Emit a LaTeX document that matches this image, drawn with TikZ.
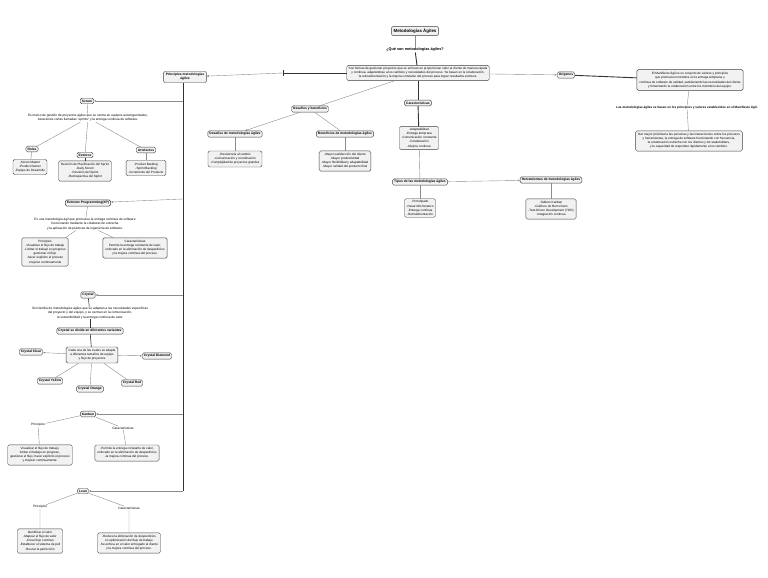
\documentclass[tikz,border=0pt]{standalone}
\usepackage{fontspec}
\setmainfont{Liberation Sans}
\usetikzlibrary{arrows.meta}
\begin{document}
\begin{tikzpicture}[x=1pt,y=-1pt,
  bx/.style={draw=black!75, fill=black!5, rounded corners=1.5pt, line width=0.4pt, inner sep=2pt, align=center, font=\fontsize{3.1}{4.1}\selectfont},
  hb/.style={bx, inner sep=1.6pt, font=\fontsize{3.3}{4}\selectfont\bfseries},
  tx/.style={inner sep=0.5pt, align=center, font=\fontsize{3.2}{4.2}\selectfont},
  ln/.style={draw=black!45, line width=0.4pt},
  dk/.style={draw=black!80, line width=0.9pt},
  ar/.style={ln, -{Latex[length=2.2pt,width=2pt]}}]
\useasboundingbox (0,0) rectangle (768,578);
% top
\node[hb, font=\fontsize{4.4}{5}\selectfont\bfseries, inner sep=2.2pt] (title) at (415,31) {Metodologías Ágiles};
\node[tx, font=\fontsize{3.8}{4.4}\selectfont\bfseries] (q) at (415,50) {¿Qué son metodologías ágiles?};
\node[bx] (main) at (418,73) {Son formas de gestionar proyectos que se enfocan en proporcionar valor al cliente de manera rápida\\y continua, adaptándose a los cambios y necesidades del proceso. Se basan en la colaboración,\\la retroalimentación y la mejora constante del proceso para lograr resultados exitosos.};
\draw[ln] (title) -- (q);
\draw[dk] (q) -- (main);
% right
\node[hb] (orig) at (566,75) {Orígenes};
\node[bx, inner sep=2.5pt] (manif) at (690,80) {El Manifiesto Ágil es un conjunto de valores y principios\\que promueven métodos en la entrega temprana y\\continua de software de calidad, satisfaciendo las necesidades del cliente\\y fomentando la colaboración entre los miembros del equipo.};
\node[tx, font=\fontsize{3.1}{3.8}\selectfont\bfseries] (manlbl) at (687,107) {Las metodologías ágiles se basan en los principios y valores establecidos en el Manifiesto Ágil.};
\node[bx, inner sep=2.5pt] (val) at (689,141) {Dar mayor prioridad a las personas y las interacciones sobre los procesos\\y herramientas, la entrega de software funcionando con frecuencia,\\la colaboración estrecha con los clientes y los stakeholders,\\y la capacidad de responder rápidamente a los cambios.};
\draw[ar] (main) -- (orig);
\draw[dk] (orig) -- (manif);
\draw[ln] (manif) -- (manlbl) -- (val);
% características
\node[hb] (carac) at (418,103) {Características};
\node[bx] (caracl) at (419,138) {-Adaptabilidad\\-Entrega temprana\\-Comunicación constante\\-Colaboración\\-Mejora continua};
\node[hb] (tipos) at (420,182) {Tipos de las metodologías ágiles};
\node[hb] (herr) at (551,180) {Herramientas de metodologías ágiles};
\node[bx] (tiposl) at (420,208) {-Prototipado\\-Desarrollo Iterativo\\-Entrega continua\\-Retroalimentación};
\node[bx, inner sep=2.5pt] (herrl) at (551,209) {-Tablero Kanban\\-Gráficos de Burn-Down\\-Test-Driven Development (TDD)\\-Integración continua};
\draw[dk] (main) -- (carac);
\draw[dk] (carac) -- (caracl);
\draw[ln] (caracl) -- (tipos);
\draw[ar] (tipos) -- (herr);
\draw[ln] (tipos) -- (tiposl);
\draw[ln] (herr) -- (herrl);
% desafíos
\node[hb] (desben) at (310,109) {Desafíos y beneficios};
\node[hb] (desaf) at (235,134) {Desafíos de metodologías ágiles};
\node[bx, inner sep=2.5pt] (desafl) at (235,159) {-Resistencia al cambio\\-Comunicación y coordinación\\-Complejidad de proyectos grandes};
\node[hb] (benef) at (345,134) {Beneficios de metodologías ágiles};
\node[bx, inner sep=2.5pt] (benefl) at (345,161) {-Mayor satisfacción del cliente\\-Mayor productividad\\-Mayor flexibilidad y adaptabilidad\\-Mayor calidad del producto final};
\draw[ln] (main) -- (desben);
\draw[ar] (desben) -- (desaf);
\draw[ln] (desben) -- (benef);
\draw[ln] (desaf) -- (desafl);
\draw[ln] (benef) -- (benefl);
% principios
\node[hb, inner sep=2.2pt] (princ) at (185,77) {Principios metodologías\\ágiles};
\coordinate (tick) at (283,73);
\draw[dk] (main.west) -- (tick);
\draw[ar] (tick) -- (princ);
\draw[draw=black!80, line width=0.4pt] (283,70.5) -- (283,75.5);
\coordinate (s0) at (183,85);
\coordinate (s1) at (183,101);
\coordinate (s2) at (183,199);
\coordinate (s3) at (183,295);
\coordinate (s4) at (183,414);
\coordinate (s5) at (183,491);
\draw[dk, line width=0.7pt] (princ.south -| s0) -- (s5);
% scrum
\node[hb] (scrum) at (87,101) {Scrum};
\node[tx] (scrumt) at (88,118) {Es marco de gestión de proyectos ágiles que se centra en equipos autoorganizados,\\iteraciones cortas llamadas "sprints" y la entrega continua de software.};
\node[hb] (roles) at (32,149) {Roles};
\node[hb] (event) at (85,155) {Eventos};
\node[hb] (artef) at (146,150) {Artefactos};
\node[bx] (rolesl) at (30,167) {-Scrum Master\\-Product Owner\\-Equipo de Desarrollo};
\node[bx, inner sep=2.5pt] (eventl) at (85,171) {Reunión de Planificación del Sprint\\-Daily Scrum\\-Revisión del Sprint\\-Retrospectiva del Sprint};
\node[bx, inner sep=2.5pt] (artefl) at (146,168) {-Product Backlog\\-Sprint Backlog\\-Incremento del Producto};
\draw[ar] (s1) -- (scrum);
\draw[ln] (scrum) -- (scrumt);
\draw[ln] (scrumt) -- (roles);
\draw[ln] (scrumt) -- (event);
\draw[ln] (scrumt) -- (artef);
\draw[ln] (roles) -- (rolesl);
\draw[dk, line width=0.6pt] (event) -- (eventl);
\draw[ln] (artef) -- (artefl);
% XP
\node[hb] (xp) at (88,203) {Extreme Programming(XP)};
\node[tx] (xpt) at (85,224) {Es una metodología ágil que promueve la entrega continua de software\\funcionando mediante la colaboración estrecha\\y la aplicación de prácticas de ingeniería de software.};
\node[bx, inner sep=2.5pt] (xpp) at (45,252) {Principios\\-Visualizar el flujo de trabajo\\-Limitar el trabajo en progreso\\gestionar el flujo\\-hacer explícito el proceso\\-mejorar continuamente};
\node[bx, inner sep=2.5pt] (xpc) at (135,248) {Características\\Permite la entrega constante de valor,\\enfocado en la eliminación de desperdicios\\y la mejora continua del proceso.};
\draw[ar] (s2) -- (xp);
\draw[ln] (xp) -- (xpt);
\draw[ln] (xpt) -- (xpp);
\draw[ln] (xpt) -- (xpc);
% crystal
\node[hb] (cry) at (88,295) {Crystal};
\node[tx] (cryt) at (90,313) {Son familia de metodologías ágiles que se adaptan a las necesidades específicas\\del proyecto y del equipo, y se centran en la comunicación,\\la sostenibilidad y la entrega continua de valor};
\node[hb] (cryv) at (90,331) {Crystal se divide en diferentes variantes};
\node[bx, inner sep=2.5pt] (cryc) at (92,355) {Cada una de las cuales se adapta\\a diferentes tamaños de equipo\\y flujo de proyectos};
\node[hb] (clear) at (31,352) {Crystal Clear};
\node[hb] (diam) at (157,356) {Crystal Diamond};
\node[hb] (yel) at (50,381) {Crystal Yellow};
\node[hb] (ora) at (90,389) {Crystal Orange};
\node[hb] (red) at (132,383) {Crystal Red};
\draw[ar] (s3) -- (cry);
\draw[dk, line width=0.6pt] (cry) -- (cryt);
\draw[dk, line width=0.6pt] (cryt) -- (cryv);
\draw[dk, line width=0.6pt] (cryv) -- (cryc);
\draw[ar] (cryc) -- (clear);
\draw[ar] (cryc) -- (diam);
\draw[ln] (cryc) -- (yel);
\draw[ln] (cryc) -- (ora);
\draw[ln] (cryc) -- (red);
% kanban
\node[hb] (kan) at (88,414) {Kanban};
\node[tx] (kp) at (38,425) {Principios};
\node[tx] (kc) at (123,428) {Características};
\node[bx, inner sep=2.5pt] (kpb) at (40,455) {Visualizar el flujo de trabajo,\\limitar el trabajo en progreso,\\gestionar el flujo, hacer explícito el proceso\\y mejorar continuamente.};
\node[bx, inner sep=2.5pt] (kcb) at (127,453) {-Permite la entrega constante de valor,\\enfocado en la eliminación de desperdicios\\-la mejora continua del proceso.};
\draw[ar] (s4) -- (kan);
\draw[ln] (kan) -- (kp) -- (kpb);
\draw[ln] (kan) -- (kc) -- (kcb);
% lean
\node[hb] (lean) at (83,491) {Lean};
\node[tx] (lp) at (40,507) {Principios};
\node[tx] (lc) at (129,508) {Características};
\node[bx, inner sep=2.5pt] (lpb) at (40,541) {Identificar el valor\\-Mapear el flujo de valor\\-Crear flujo continuo\\-Establecer el sistema de pull\\-Buscar la perfección};
\node[bx, inner sep=2.5pt] (lcb) at (129,543) {-Reduce la eliminación de desperdicios\\en optimización del flujo de trabajo\\-Se enfoca en el valor entregado al cliente\\y la mejora continua del proceso.};
\draw[ar] (s5) -- (lean);
\draw[ln] (lean) -- (lp) -- (lpb);
\draw[ln] (lean) -- (lc) -- (lcb);
\end{tikzpicture}
\end{document}
